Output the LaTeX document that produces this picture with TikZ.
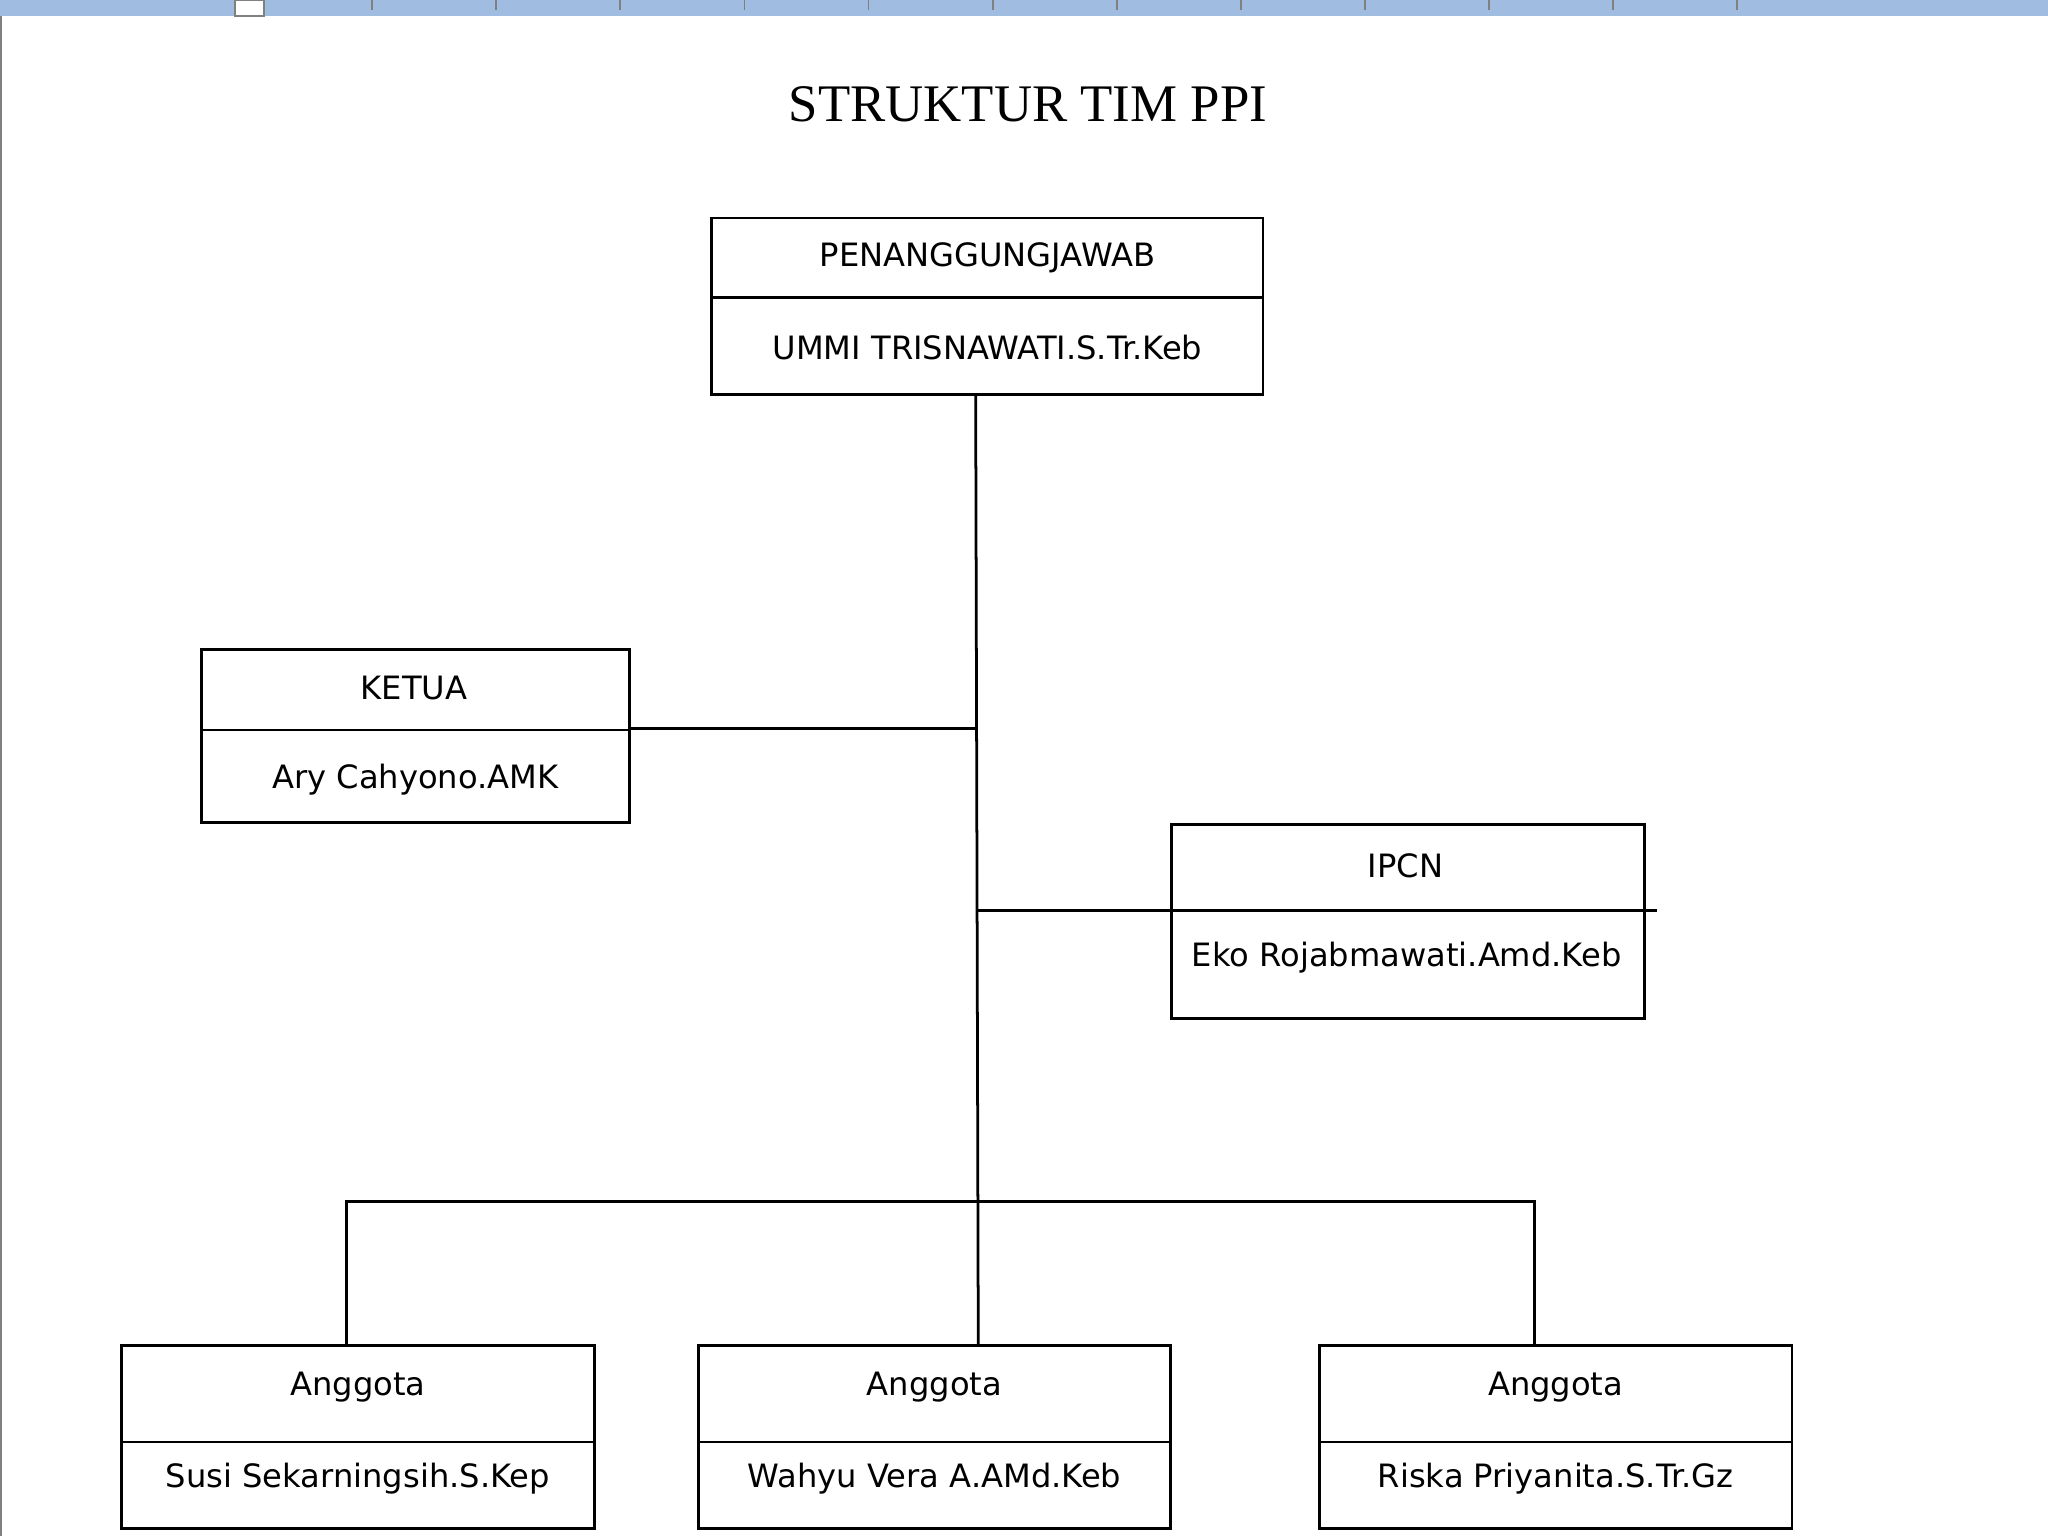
\documentclass[tikz,border=0pt]{standalone}
\usepackage{fontspec}
\setmainfont{Liberation Serif}
\newfontfamily\boxfont{DejaVu Sans}
\begin{document}
\begin{tikzpicture}[x=0.01cm,y=-0.01cm,
  bx/.style={draw,line width=0.6pt},
  ln/.style={line width=0.6pt},
  lbl/.style={font=\boxfont\fontsize{7}{8}\selectfont,inner sep=0pt}]
\useasboundingbox (0,0) rectangle (1568,1176);
\fill[fill={rgb,255:red,160;green,188;blue,225}] (0,0) rectangle (1568,12);
\foreach \x in {285,380,475,570,665,760,855,950,1045,1140,1235,1330} \draw[gray] (\x,0)--(\x,8);
\draw[gray,fill=white] (180,0) rectangle (202,12);
\draw[gray] (1,12)--(1,1176);
\node[font=\fontsize{11.5}{13}\selectfont] (title) at (787,80) {STRUKTUR TIM PPI};
% boxes
\draw[bx] (545,167) rectangle (967,302); \draw[ln] (545,228)--(967,228);
\node[lbl] (pj) at (756,197) {PENANGGUNGJAWAB};
\node[lbl] (pjn) at (756,266) {UMMI TRISNAWATI.S.Tr.Keb};
\draw[bx] (154,497) rectangle (482,630); \draw[ln] (154,559)--(482,559);
\node[lbl] (kt) at (317,527) {KETUA};
\node[lbl] (ktn) at (318,597) {Ary Cahyono.AMK};
\draw[bx] (897,631) rectangle (1259,780); \draw[ln] (897,697)--(1269,697);
\node[lbl] (ip) at (1076,663) {IPCN};
\node[lbl] (ipn) at (1077,733) {Eko Rojabmawati.Amd.Keb};
\foreach \a/\b/\c/\t/\n in {93/455/a1/Anggota/Susi Sekarningsih.S.Kep,535/896/a2/Anggota/Wahyu Vera A.AMd.Keb,1010/1372/a3/Anggota/Riska Priyanita.S.Tr.Gz}{
  \draw[bx] (\a,1030) rectangle (\b,1170); \draw[ln] (\a,1104)--(\b,1104);
  \node[lbl] (\c) at ({(\a+\b)/2},1062) {\t};
  \node[lbl] (\c n) at ({(\a+\b)/2},1132) {\n};
}
% connectors
\coordinate (t1) at (747,302);
\coordinate (t2) at (749,1030);
\draw[ln] (t1)--(t2);
\draw[ln] (482,558)--(749,558);
\draw[ln] (749,697)--(897,697);
\draw[ln] (265,1030)--(265,920)--(1175,920)--(1175,1030);
\end{tikzpicture}
\end{document}
